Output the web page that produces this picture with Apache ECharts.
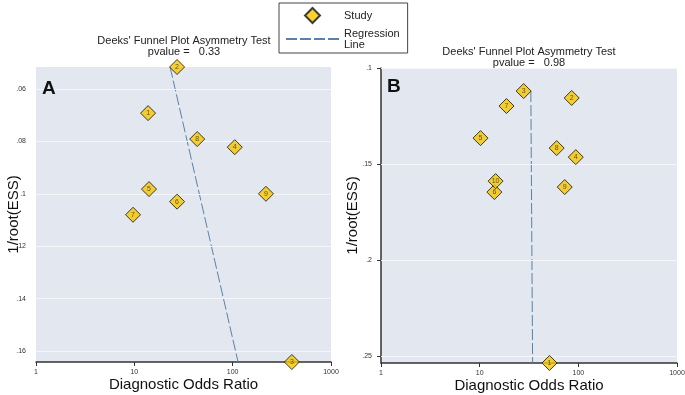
<!DOCTYPE html>
<html>
<head>
<meta charset="utf-8">
<script src="https://cdn.jsdelivr.net/npm/echarts@6/dist/echarts.min.js"></script>
<style>
  html, body { margin: 0; padding: 0; background: #fff; }
  #chart { width: 685px; height: 395px; }
</style>
</head>
<body>
<div id="chart"></div>
<script>
// panel A
const studyA = ['1', '2', '3', '4', '5', '6', '7', '8', '9'];
const dorA = [13.8, 27.2, 400, 105, 14.1, 27.2, 9.7, 43.6, 218];
const essA = [0.0692, 0.0516, 0.1642, 0.0822, 0.0982, 0.103, 0.108, 0.0791, 0.1];
const regDorA = [23.1, 113.5];
const regEssA = [0.0516, 0.1642];
const yTicksA = [0.06, 0.08, 0.1, 0.12, 0.14, 0.16];
const pvalA = '0.33';

// panel B
const studyB = ['1', '2', '3', '4', '5', '6', '7', '8', '9', '10'];
const dorB = [51, 85.6, 27.9, 94.2, 10.2, 14.1, 18.7, 60.3, 72.8, 14.5];
const essB = [0.2536, 0.1156, 0.112, 0.1464, 0.1365, 0.1646, 0.1198, 0.1417, 0.162, 0.1589];
const regDorB = [33.0, 34.4];
const regEssB = [0.112, 0.2536];
const yTicksB = [0.1, 0.15, 0.2, 0.25];
const pvalB = '0.98';

const FONT = '"Liberation Sans", Arial, sans-serif';
const lineCol = '#5b80aa';

function fmtY(v) {
  return String(+v.toFixed(3)).replace(/^0/, '');
}

function xAxisFor(idx) {
  return {
    type: 'log', logBase: 10, min: 1, max: 1000, gridIndex: idx,
    name: 'Diagnostic Odds Ratio', nameLocation: 'middle', nameGap: 15,
    nameMoveOverlap: false,
    nameTextStyle: { fontFamily: FONT, fontSize: 15, color: '#111' },
    axisLine: { show: true, lineStyle: { color: '#333', width: 1.5 } },
    axisTick: { show: true, length: 4, lineStyle: { color: '#333' } },
    axisLabel: {
      fontFamily: FONT, fontSize: 7, color: '#333', margin: 7,
      formatter: v => String(Math.round(v))
    },
    minorTick: { show: false },
    splitLine: { show: false }
  };
}

function yAxisFor(idx, min, max, ticks, dark) {
  return {
    type: 'value', inverse: true, min: min, max: max, gridIndex: idx,
    name: '1/root(ESS)', nameLocation: 'middle', nameGap: dark ? 21 : 15,
    nameMoveOverlap: false,
    nameTextStyle: { fontFamily: FONT, fontSize: 15, color: '#111' },
    axisLine: { show: dark, lineStyle: { color: '#333', width: 1.5 } },
    axisTick: { show: dark, length: 4, customValues: ticks, lineStyle: { color: '#333' } },
    axisLabel: {
      fontFamily: FONT, fontSize: 7, color: '#333', margin: dark ? 9 : 10,
      customValues: ticks, formatter: fmtY
    },
    splitLine: { show: false }
  };
}

function gridLines(ticks) {
  return {
    silent: true, symbol: ['none', 'none'], label: { show: false },
    lineStyle: { color: '#f4f6fa', type: 'solid', width: 1.2 },
    data: ticks.map(t => ({ yAxis: t }))
  };
}

function studySeries(idx, ids, xs, ys, ticks) {
  return {
    name: 'Study', type: 'scatter', xAxisIndex: idx, yAxisIndex: idx,
    symbol: 'diamond', symbolSize: 15, clip: false, z: 5,
    itemStyle: { color: '#f7c600', borderColor: '#111', borderWidth: 1 },
    label: {
      show: true, position: 'inside', fontFamily: FONT, fontSize: 7, color: '#333',
      formatter: p => p.data[2]
    },
    data: xs.map((x, i) => [x, ys[i], ids[i]]),
    markLine: gridLines(ticks)
  };
}

function regSeries(idx, xs, ys) {
  return {
    name: 'Regression Line', type: 'line', xAxisIndex: idx, yAxisIndex: idx,
    symbol: 'none', z: 4,
    lineStyle: { color: lineCol, width: 1, type: [11, 3] },
    data: xs.map((x, i) => [x, ys[i]])
  };
}

const chart = echarts.init(document.getElementById('chart'));
chart.setOption({
  animation: false,
  backgroundColor: '#fff',
  textStyle: { fontFamily: FONT },
  title: [
    {
      text: "Deeks' Funnel Plot Asymmetry Test\npvalue =   " + pvalA,
      left: 184, top: 35, textAlign: 'center', padding: 0,
      textStyle: { fontSize: 11, fontWeight: 'normal', color: '#222', lineHeight: 11 }
    },
    {
      text: "Deeks' Funnel Plot Asymmetry Test\npvalue =   " + pvalB,
      left: 529, top: 46, textAlign: 'center', padding: 0,
      textStyle: { fontSize: 11, fontWeight: 'normal', color: '#222', lineHeight: 11 }
    },
    { text: 'A', left: 42, top: 79, padding: 0, textStyle: { fontSize: 19, fontWeight: 'bold', color: '#111' } },
    { text: 'B', left: 387, top: 77, padding: 0, textStyle: { fontSize: 19, fontWeight: 'bold', color: '#111' } }
  ],
  legend: {
    left: 279, top: 3, orient: 'vertical',
    data: [
      { name: 'Study', icon: 'path://M0,-1L1,0L0,1L-1,0Z' },
      { name: 'Regression Line', itemStyle: { opacity: 0 } }
    ],
    symbolKeepAspect: true,
    borderColor: '#444', borderWidth: 1, borderRadius: 0,
    padding: [4, 8, 3, 6], itemGap: 4,
    itemWidth: 53, itemHeight: 15,
    formatter: n => n.replace(' ', '\n'),
    textStyle: { fontFamily: FONT, fontSize: 11, color: '#222', lineHeight: 11 }
  },
  grid: [
    {
      left: 36, right: 354, top: 67, bottom: 33, outerBoundsMode: 'none',
      show: true, backgroundColor: '#e2e7f0', borderWidth: 0
    },
    {
      left: 381, right: 8, top: 68, bottom: 32, outerBoundsMode: 'none',
      show: true, backgroundColor: '#e2e7f0', borderWidth: 0
    }
  ],
  xAxis: [xAxisFor(0), xAxisFor(1)],
  yAxis: [
    yAxisFor(0, 0.0516, 0.1642, yTicksA, false),
    yAxisFor(1, 0.1, 0.2536, yTicksB, true)
  ],
  series: [
    regSeries(0, regDorA, regEssA),
    studySeries(0, studyA, dorA, essA, yTicksA),
    regSeries(1, regDorB, regEssB),
    studySeries(1, studyB, dorB, essB, yTicksB)
  ]
});
</script>
</body>
</html>
